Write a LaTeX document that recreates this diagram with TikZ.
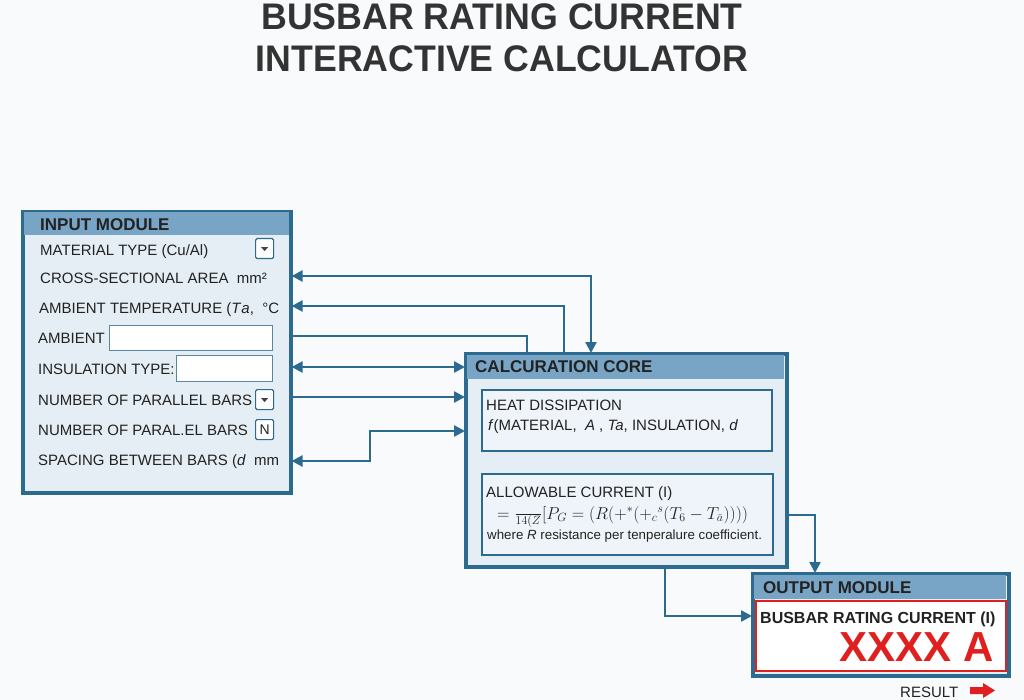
\documentclass[tikz,border=0pt]{standalone}
\usepackage{fontspec}
\setmainfont{Liberation Sans}
\usetikzlibrary{arrows.meta,calc}
\definecolor{bdr}{HTML}{2C6A8F}
\definecolor{hdrfill}{HTML}{78A5C5}
\definecolor{boxfill}{HTML}{E5EEF5}
\definecolor{innerfill}{HTML}{EEF4F9}
\definecolor{txt}{HTML}{222222}
\definecolor{ttl}{HTML}{333333}
\definecolor{redc}{HTML}{E0201E}
\definecolor{bg}{HTML}{F8FAFB}
\begin{document}
\begin{tikzpicture}[x=1pt,y=-1pt,
  panel/.style={draw=bdr,line width=2.6pt,fill=boxfill,inner sep=0,anchor=north west},
  hdrband/.style={fill=hdrfill,inner sep=0,anchor=north west},
  inner/.style={draw=bdr,line width=1.8pt,fill=innerfill,inner sep=0,anchor=north west},
  field/.style={draw=bdr!80,line width=1.2pt,fill=white,inner sep=0,anchor=north west},
  ddbox/.style={draw=bdr,line width=1.2pt,fill=white,rounded corners=1.5pt,inner sep=0,anchor=north west,minimum width=18,minimum height=20},
  lbl/.style={anchor=base west,inner sep=0,text=txt,font=\fontsize{15}{18}\selectfont},
  hdrtxt/.style={anchor=base west,inner sep=0,text=txt,font=\fontsize{17}{20}\selectfont\bfseries},
  ttltxt/.style={anchor=base,inner sep=0,text=ttl,font=\fontsize{37}{40}\selectfont\bfseries},
  conn/.style={draw=bdr,line width=2.4pt},
  tip/.tip={Triangle[length=11pt,width=11pt]},
]
\useasboundingbox[fill=bg] (0,0) rectangle (1024,700);

% title
\node[ttltxt] (t1) at (502,30) {\scalebox{0.965}[1]{BUSBAR RATING CURRENT}};
\node[ttltxt] (t2) at (502,72) {\scalebox{0.964}[1]{INTERACTIVE CALCULATOR}};

% ---------- input module
\node[panel,minimum width=267,minimum height=280] (inp) at (22,211) {};
\node[hdrband,minimum width=265.4,minimum height=23] (inph) at (23.3,212.3) {};
\node[hdrtxt] (inpt) at (40,231) {INPUT MODULE};

\node[lbl] (r1) at (40,255.5) {MATERIAL TYPE (Cu/Al)};
\node[lbl] (r2) at (40,283.5) {CROSS-SECTIONAL AREA\ \ mm²};
\node[lbl] (r3) at (39,313.5) {AMBIENT TEMPERATURE (\textit{T}\textit{a},\ \ °C};
\node[lbl] (r4) at (38,343.5) {AMBIENT};
\node[lbl] (r5) at (38,374.5) {INSULATION TYPE:};
\node[lbl] (r6) at (38,405.5) {NUMBER OF PARALLEL BARS};
\node[lbl] (r7) at (38,435.5) {NUMBER OF PARAL.EL BARS};
\node[lbl] (r8) at (38,465.5) {SPACING BETWEEN BARS (\textit{d}\ \ mm};

\node[ddbox] (dd1) at (255,238) {};
\fill[txt!85] ($(dd1.center)+(-3.5,-1.5)$) -- ($(dd1.center)+(3.5,-1.5)$) -- ($(dd1.center)+(0,2.5)$) -- cycle;
\node[field,minimum width=163,minimum height=25] (f4) at (109,325) {};
\node[field,minimum width=96,minimum height=26] (f5) at (176,355) {};
\node[ddbox] (dd6) at (255,389) {};
\fill[txt!85] ($(dd6.center)+(-3.5,-1.5)$) -- ($(dd6.center)+(3.5,-1.5)$) -- ($(dd6.center)+(0,2.5)$) -- cycle;
\node[ddbox,font=\fontsize{14}{16}\selectfont,text=txt] (dd7) at (255,419) {N};

\draw[draw=bdr,line width=2.6pt] (inp.north west) rectangle (inp.south east);

% ---------- calculation core
\node[panel,minimum width=320,minimum height=212] (core) at (465,353) {};
\node[hdrband,minimum width=317.4,minimum height=24] (coreh) at (466.3,354.3) {};
\node[hdrtxt] (coret) at (475,372) {CALCURATION CORE};

\node[inner,minimum width=290,minimum height=61] (heat) at (481,389) {};
\node[lbl] (h1) at (486,410.5) {HEAT DISSIPATION};
\node[lbl] (h2) at (488,430.5) {\textit{f}(MATERIAL,\ \ \textit{A} , \textit{Ta}, INSULATION,\ \textit{d}};

\node[inner,minimum width=291,minimum height=81] (allow) at (481,473) {};
\node[lbl] (a1) at (486,497.5) {ALLOWABLE CURRENT (I)};
\node[lbl,font=\fontsize{17}{20}\selectfont] (a2) at (497,519) {$=\frac{\rule{20pt}{0pt}}{\scriptstyle 14(Z}\bigl[P_G=\bigl(R\bigl(+{}^{\ast}\bigl(+_c{}^{s}\bigl(T_6-T_{\bar a}\bigr)\bigr)\bigr)\bigr)$};
\node[lbl,font=\fontsize{13.3}{16}\selectfont] (a3) at (487,539.5) {where \textit{R} resistance per tenperalure coefficient.};

\draw[draw=bdr,line width=2.6pt] (core.north west) rectangle (core.south east);

% ---------- output module
\node[panel,minimum width=255,minimum height=101] (out) at (752,573) {};
\node[hdrband,minimum width=252.4,minimum height=24] (outh) at (753.3,574.3) {};
\node[hdrtxt] (outt) at (763,593) {OUTPUT MODULE};
\node[draw=redc,line width=2.4pt,fill=white,inner sep=0,anchor=north west,minimum width=250,minimum height=70] (res) at (755,600) {};
\node[anchor=base west,inner sep=0,text=txt,font=\fontsize{16}{19}\selectfont\bfseries] (o1) at (760,623) {BUSBAR RATING CURRENT (I)};
\node[anchor=base east,inner sep=0,text=redc,font=\fontsize{42}{46}\selectfont\bfseries] (o2) at (994,661) {XXXX A};
\draw[draw=bdr,line width=2.6pt] (out.north west) rectangle (out.south east);

\node[anchor=base west,inner sep=0,text=txt,font=\fontsize{15}{18}\selectfont] (rl) at (900,697) {RESULT};
\fill[redc] (970,687) -- (983,687) -- (983,683) -- (995,690.5) -- (983,698) -- (983,694) -- (970,694) -- cycle;

% ---------- connectors
\coordinate (y2) at (0,276);
\coordinate (y3) at (0,306);
\coordinate (y4) at (0,336);
\coordinate (y5) at (0,367);
\coordinate (y6) at (0,397);
\coordinate (y8) at (0,461);
\coordinate (c1top) at ($(core.north west)+(126,0)$);
\coordinate (c2top) at ($(core.north west)+(99,0)$);
\coordinate (c3top) at ($(core.north west)+(62,0)$);
\draw[conn,{tip}-{tip}] (inp.east |- y2) -| (c1top);
\draw[conn,{tip}-] (inp.east |- y3) -| (c2top);
\draw[conn] (inp.east |- y4) -| (c3top);
\draw[conn,{tip}-{tip}] (inp.east |- y5) -- (core.west |- y5);
\draw[conn,-{tip}] (inp.east |- y6) -- (core.west |- y6);
\coordinate (bend6) at (370,431);
\draw[conn,{tip}-{tip}] (inp.east |- y8) -| (bend6) -- (core.west |- bend6);

\coordinate (c7r) at (815,515);
\draw[conn,-{tip}] (core.east |- c7r) -| (out.north -| c7r);
\coordinate (c8b) at (665,616);
\draw[conn,-{tip}] (core.south -| c8b) |- (out.west |- c8b);
\end{tikzpicture}
\end{document}
